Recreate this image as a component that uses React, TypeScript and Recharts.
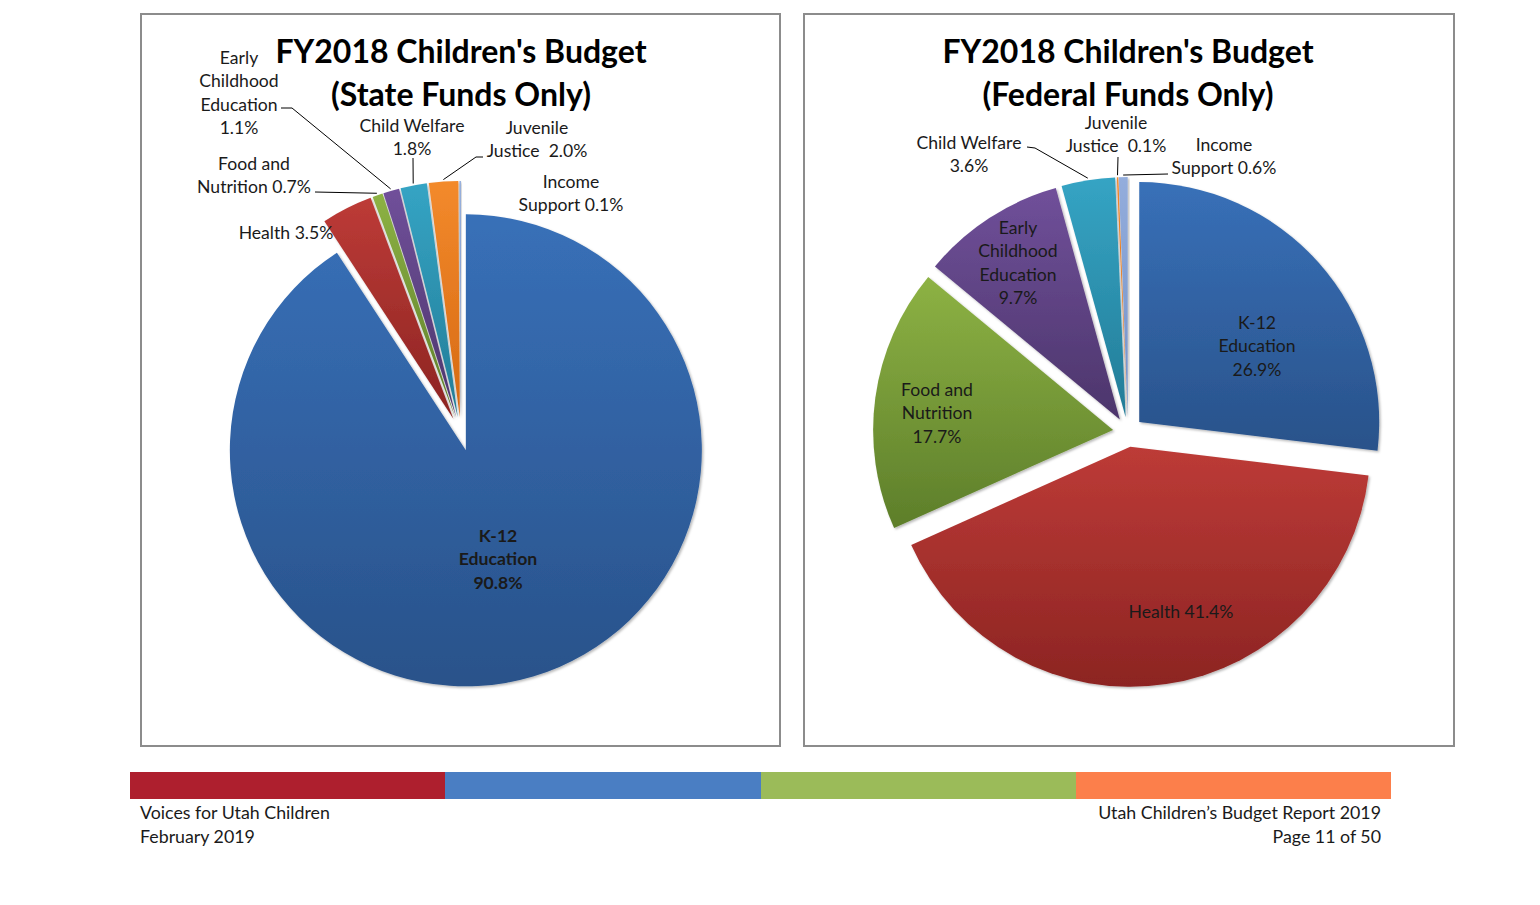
import React from 'react';
import { PieChart, Pie, Cell, Sector } from 'recharts';

// Budget categories, in the clockwise order the slices are drawn from 12 o'clock
const categories = [
  'K-12 Education',
  'Health',
  'Food and Nutrition',
  'Early Childhood Education',
  'Child Welfare',
  'Juvenile Justice',
  'Income Support',
];

// Share of the FY2018 children's budget, percent
const stateShares = [90.8, 3.5, 0.7, 1.1, 1.8, 2.0, 0.1];
const federalShares = [26.9, 41.4, 17.7, 9.7, 3.6, 0.1, 0.6];

// Label text per slice; {v} is replaced by the slice value
const stateLabelLines = [
  ['K-12', 'Education', '{v}'],
  ['Health {v}'],
  ['Food and', 'Nutrition {v}'],
  ['Early', 'Childhood', 'Education', '{v}'],
  ['Child Welfare', '{v}'],
  ['Juvenile', 'Justice\u00a0 {v}'],
  ['Income', 'Support {v}'],
];
const federalLabelLines = [
  ['K-12', 'Education', '{v}'],
  ['Health {v}'],
  ['Food and', 'Nutrition', '{v}'],
  ['Early', 'Childhood', 'Education', '{v}'],
  ['Child Welfare', '{v}'],
  ['Juvenile', 'Justice\u00a0 {v}'],
  ['Income', 'Support {v}'],
];

const titleLines = ["FY2018 Children's Budget"];
const stateSubtitle = '(State Funds Only)';
const federalSubtitle = '(Federal Funds Only)';

const footerLeft = ['Voices for Utah Children', 'February 2019'];
const footerRight = ['Utah Children\u2019s Budget Report 2019', 'Page 11 of 50'];

// Slice gradients (top colour, bottom colour), one per category
const gradients = [
  { id: 'g-blue', top: '#3870b8', bottom: '#29528a' },
  { id: 'g-red', top: '#bd3b37', bottom: '#8c2422' },
  { id: 'g-green', top: '#8db244', bottom: '#5d7e2a' },
  { id: 'g-purple', top: '#70509a', bottom: '#4c356b' },
  { id: 'g-teal', top: '#35a4c4', bottom: '#237c97' },
  { id: 'g-orange', top: '#f38a2c', bottom: '#d66912' },
  { id: 'g-light', top: '#93addc', bottom: '#7391c8' },
];

const footerBand = ['#ae1f2e', '#4a7ec3', '#9bbb59', '#fc7f4b'];

const FONT = 'Lato, "Noto Sans", sans-serif';
const TEXT = '#1a1a1a';

type LabelSpec = {
  x: number; // centre of the label text
  y: number; // centre of the first text line
  bold?: boolean;
  leader?: [number, number][]; // points from the label end towards the slice
};

// Label placement, in chart-local pixels
const stateLabelLayout: LabelSpec[] = [
  { x: 358, y: 522, bold: true },
  { x: 146, y: 219 },
  { x: 114, y: 150, leader: [[175, 179]] },
  { x: 99, y: 44, leader: [[141, 95], [152, 95]] },
  { x: 272, y: 112, leader: [[273, 145]] },
  { x: 397, y: 114, leader: [[343, 144], [336, 144]] },
  { x: 431, y: 168 },
];
const federalLabelLayout: LabelSpec[] = [
  { x: 454, y: 309 },
  { x: 378, y: 598 },
  { x: 134, y: 376 },
  { x: 215, y: 214 },
  { x: 166, y: 129, leader: [[224, 134], [232, 135]] },
  { x: 313, y: 109, leader: [[315, 144]] },
  { x: 421, y: 131, leader: [[365, 161]] },
];

const RAD = Math.PI / 180;
const LINE_H = 23.6;
const LABEL_SIZE = 17.6;

const toData = (shares: number[]) =>
  categories.map((name, i) => ({ name, value: shares[i], idx: i }));

const stateData = toData(stateShares);
const federalData = toData(federalShares);

// Each slice is pushed out from the centre along its mid angle
const makeSlice = (explode: number) => (props: any) => {
  const { cx, cy, midAngle, innerRadius, outerRadius, startAngle, endAngle, fill } = props;
  const dx = explode * Math.cos(-midAngle * RAD);
  const dy = explode * Math.sin(-midAngle * RAD);
  return (
    <Sector
      cx={cx + dx}
      cy={cy + dy}
      innerRadius={innerRadius}
      outerRadius={outerRadius}
      startAngle={startAngle}
      endAngle={endAngle}
      fill={fill}
      stroke="none"
      filter="url(#sliceShadow)"
    />
  );
};

const makeLabel =
  (explode: number, lines: string[][], layout: LabelSpec[]) => (props: any) => {
    const { cx, cy, midAngle, outerRadius, value } = props;
    const i: number = props.payload?.idx ?? props.index;
    const spec = layout[i];
    const text = lines[i].map((l) => l.replace('{v}', `${Number(value).toFixed(1)}%`));
    let leader = null;
    if (spec.leader) {
      const r = outerRadius + 2;
      const ex = cx + explode * Math.cos(-midAngle * RAD) + r * Math.cos(-midAngle * RAD);
      const ey = cy + explode * Math.sin(-midAngle * RAD) + r * Math.sin(-midAngle * RAD);
      const pts = [...spec.leader, [ex, ey]].map((p) => p.join(',')).join(' ');
      leader = <polyline points={pts} fill="none" stroke="#000" strokeWidth={1} />;
    }
    return (
      <g>
        {leader}
        <text
          x={spec.x}
          y={spec.y}
          textAnchor="middle"
          fontFamily={FONT}
          fontSize={LABEL_SIZE}
          fontWeight={spec.bold ? 700 : 400}
          fill={TEXT}
        >
          {text.map((t, k) => (
            <tspan key={k} x={spec.x} y={spec.y + k * LINE_H} dominantBaseline="central">
              {t}
            </tspan>
          ))}
        </text>
      </g>
    );
  };

const Defs = () => (
  <defs>
    {gradients.map((g) => (
      <linearGradient key={g.id} id={g.id} x1="0" y1="0" x2="0" y2="1">
        <stop offset="0%" stopColor={g.top} />
        <stop offset="100%" stopColor={g.bottom} />
      </linearGradient>
    ))}
    <filter id="sliceShadow" x="-10%" y="-10%" width="130%" height="130%">
      <feDropShadow dx="1.5" dy="1.5" stdDeviation="1.2" floodColor="#000" floodOpacity="0.28" />
    </filter>
  </defs>
);

type BudgetPieProps = {
  left: number;
  width: number;
  data: { name: string; value: number; idx: number }[];
  subtitle: string;
  cx: number;
  cy: number;
  radius: number;
  explode: number;
  lines: string[][];
  layout: LabelSpec[];
};

const BudgetPie = ({ left, width, data, subtitle, cx, cy, radius, explode, lines, layout }: BudgetPieProps) => {
  const height = 734;
  return (
    <div style={{ position: 'absolute', left, top: 13, width, height }}>
      <PieChart width={width} height={height} margin={{ top: 0, right: 0, bottom: 0, left: 0 }}>
        <Defs />
        <Pie
          data={data}
          dataKey="value"
          nameKey="name"
          cx={cx}
          cy={cy}
          outerRadius={radius}
          startAngle={90}
          endAngle={-270}
          stroke="none"
          isAnimationActive={false}
          shape={makeSlice(explode)}
          labelLine={false}
          label={makeLabel(explode, lines, layout)}
        >
          {data.map((d) => (
            <Cell key={d.name} fill={`url(#${gradients[d.idx].id})`} />
          ))}
        </Pie>
        <text textAnchor="middle" fontFamily={FONT} fontWeight={700} fontSize={32} fill="#000">
          <tspan x={cx} y={37} dominantBaseline="central">{titleLines[0]}</tspan>
          <tspan x={cx} y={80} dominantBaseline="central">{subtitle}</tspan>
        </text>
      </PieChart>
      <div
        style={{
          position: 'absolute',
          left: 0,
          top: 0,
          width,
          height,
          boxSizing: 'border-box',
          border: '2px solid #8c8c8c',
          pointerEvents: 'none',
        }}
      />
    </div>
  );
};

export default function App() {
  return (
    <div
      style={{
        position: 'absolute',
        left: 0,
        top: 0,
        width: 1540,
        height: 905,
        background: '#fff',
        fontFamily: FONT,
        color: TEXT,
      }}
    >
      <BudgetPie
        left={140}
        width={641}
        data={stateData}
        subtitle={stateSubtitle}
        cx={321}
        cy={421}
        radius={236}
        explode={17}
        lines={stateLabelLines}
        layout={stateLabelLayout}
      />
      <BudgetPie
        left={803}
        width={652}
        data={federalData}
        subtitle={federalSubtitle}
        cx={325}
        cy={419}
        radius={240}
        explode={15}
        lines={federalLabelLines}
        layout={federalLabelLayout}
      />

      {/* Report footer band */}
      <div style={{ position: 'absolute', left: 130, top: 772, width: 1261, height: 27, display: 'flex' }}>
        {footerBand.map((c) => (
          <div key={c} style={{ flex: 1, background: c }} />
        ))}
      </div>
      <div style={{ position: 'absolute', left: 140, top: 800, fontSize: 17.8, lineHeight: '24px' }}>
        {footerLeft.map((t) => (
          <div key={t}>{t}</div>
        ))}
      </div>
      <div
        style={{
          position: 'absolute',
          right: 1540 - 1381,
          top: 800,
          fontSize: 17.8,
          lineHeight: '24px',
          textAlign: 'right',
        }}
      >
        {footerRight.map((t) => (
          <div key={t}>{t}</div>
        ))}
      </div>
    </div>
  );
}
